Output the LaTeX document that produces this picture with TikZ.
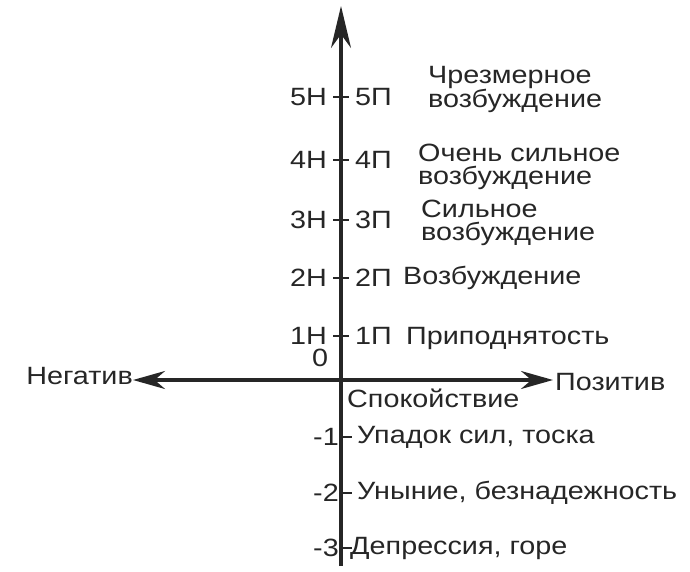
\documentclass[tikz,border=0pt]{standalone}
\usepackage{fontspec}
\setmainfont{Liberation Sans}
\usetikzlibrary{arrows.meta}
\begin{document}
\begin{tikzpicture}[x=1pt,y=-1pt,
  lab/.style={font=\fontsize{25}{23}\selectfont, xscale=1.15, inner sep=0pt, text=black!85},
  ax/.style={line width=3.2pt, draw=black!85},
  tk/.style={line width=2.5pt, draw=black!85}]
\useasboundingbox (0,0) rectangle (690,572);
\coordinate (top) at (341,6);
\coordinate (bot) at (341,566);
\coordinate (left) at (133,380);
\coordinate (right) at (553,380);
\draw[ax,-{Stealth[length=42pt,width=20pt]}] (bot) -- (top);
\draw[ax,{Stealth[length=32pt,width=18pt]}-{Stealth[length=32pt,width=18pt]}] (left) -- (right);
\foreach \i/\y in {5/97,4/160,3/220,2/278,1/336}{
  \draw[tk] (333,\y) -- (349,\y);
  \node[lab,anchor=east] (n\i) at (327,\y) {\i Н};
  \node[lab,anchor=west] (p\i) at (355,\y) {\i П};
}
\foreach \i/\y in {1/437,2/493,3/548}{
  \draw[tk] (341,\y) -- (352,\y);
  \node[lab,anchor=east] (m\i) at (339,\y) {-\i};
}
\node[lab,anchor=north west,align=left] (t5) at (428,66) {Чрезмерное\\возбуждение};
\node[lab,anchor=north west,align=left] (t4) at (418,144) {Очень сильное\\возбуждение};
\node[lab,anchor=north west,align=left] (t3) at (421,200) {Сильное\\возбуждение};
\node[lab,anchor=west] (t2) at (403,278) {Возбуждение};
\node[lab,anchor=west] (t1) at (406,338) {Приподнятость};
\node[lab] (zero) at (320,358) {0};
\node[lab,anchor=west] (calm) at (347,398) {Спокойствие};
\node[lab,anchor=east] (neg) at (133,376) {Негатив};
\node[lab,anchor=west] (pos) at (555,382) {Позитив};
\node[lab,anchor=west] (d1) at (357,437) {Упадок сил, тоска};
\node[lab,anchor=west] (d2) at (357,493) {Уныние, безнадежность};
\node[lab,anchor=west] (d3) at (350,548) {Депрессия, горе};
\end{tikzpicture}
\end{document}
